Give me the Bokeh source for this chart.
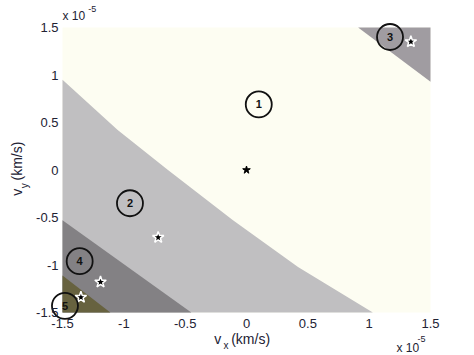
import math
from bokeh.plotting import figure
from bokeh.models import Range1d
from bokeh.embed import file_html
from bokeh.resources import INLINE
from bokeh.core.properties import value

# values in units of 1e-5 km/s
ticks = [-1.5, -1, -0.5, 0, 0.5, 1, 1.5]
tick_labels = ["-1.5", "-1", "-0.5", "0", "0.5", "1", "1.5"]

# boundary between region 1 and region 2 (curved)
b12_x = [-1.5, -1.05, -0.64, -0.11, 0.42, 1.03]
b12_y = [0.95, 0.42, 0.0, -0.53, -1.02, -1.5]
# boundary between region 2 and region 4
b24_x = [-1.5, -0.45]
b24_y = [-0.53, -1.5]
# boundary between region 4 and region 5
b45_x = [-1.5, -1.11]
b45_y = [-1.11, -1.5]
# boundary of region 3 (top-right corner)
b3_x = [0.91, 1.5]
b3_y = [1.5, 0.93]

# equilibrium points (stars)
star_x = [-0.72, -1.19, -1.35, 1.34]
star_y = [-0.71, -1.18, -1.34, 1.35]
center_star_x = [0.0]
center_star_y = [0.0]

# region labels
region_ids = ["1", "2", "3", "4", "5"]
region_x = [0.10, -0.95, 1.17, -1.36, -1.48]
region_y = [0.69, -0.35, 1.40, -0.96, -1.43]

region_colors = ["#FDFDF2", "#C0BFC1", "#A09CA1", "#838184", "#67623F"]

lo, hi = -1.5, 1.5
W, H = 474, 355
left, right, top, bottom = 62, 44, 27, 43
sx = (W - left - right) / (hi - lo)
sy = (H - top - bottom) / (hi - lo)

p = figure(width=W, height=H, output_backend="svg", toolbar_location=None,
           min_border=0,
           x_range=Range1d(lo - left / sx, hi + right / sx),
           y_range=Range1d(lo - bottom / sy, hi + top / sy))
p.outline_line_color = None
p.grid.visible = False
p.axis.visible = False
p.background_fill_color = "white"
p.border_fill_color = "white"

# region 1: whole square
p.patch([lo, hi, hi, lo], [lo, lo, hi, hi], fill_color=region_colors[0], line_color=None)
# region 2: below curve
p.patch(b12_x + [lo], b12_y + [lo], fill_color=region_colors[1], line_color=None)
# region 3
p.patch(b3_x + [hi], b3_y + [hi], fill_color=region_colors[2], line_color=None)
# region 4
p.patch(b24_x + [lo], b24_y + [lo], fill_color=region_colors[3], line_color=None)
# region 5
p.patch(b45_x + [lo], b45_y + [lo], fill_color=region_colors[4], line_color=None)

# stars
p.scatter(star_x, star_y, marker="star", size=12, fill_color="black",
          line_color="white", line_width=1.5)
p.scatter(center_star_x, center_star_y, marker="star", size=8, fill_color="black",
          line_color="black")

# circled region numbers
p.scatter(region_x, region_y, marker="circle", size=26, fill_color=None,
          line_color="#111111", line_width=1.8)
p.text(region_x, region_y, text=region_ids, text_align="center", text_baseline="middle",
       text_font=value("Liberation Sans"), text_font_size="11px", text_font_style="bold",
       text_color="#111111")

tick_color = "#222233"
font = value("Liberation Sans")
# x tick labels
p.text(ticks, [lo] * len(ticks), text=tick_labels, y_offset=11, text_align="center",
       text_baseline="middle", text_font=font, text_font_size="13px", text_color=tick_color)
# y tick labels
p.text([lo] * len(ticks), ticks, text=tick_labels, x_offset=-4, text_align="right",
       text_baseline="middle", text_font=font, text_font_size="13px", text_color=tick_color)


def lab(x, y, t, size="14px", angle=0, align="left"):
    p.text([x], [y], text=[t], angle=angle, text_align=align, text_baseline="middle",
           text_font=font, text_font_size=size, text_color=tick_color)

# x axis label  v_x (km/s)
lab(-0.235, -1.774, "v", align="center")
lab(-0.168, -1.848, "x", size="10px", align="center")
lab(-0.125, -1.774, "(km/s)", align="left")
# y axis label  v_y (km/s)
lab(-1.875, -0.235, "v", angle=math.pi / 2, align="center")
lab(-1.812, -0.165, "y", size="10px", angle=math.pi / 2, align="center")
lab(-1.875, -0.11, "(km/s)", angle=math.pi / 2, align="left")
# exponent labels
lab(-1.5, 1.616, "x 10", size="12px")
lab(-1.29, 1.70, "-5", size="9px")
lab(1.222, -1.869, "x 10", size="12px")
lab(1.394, -1.774, "-5", size="9px")

open("out.html", "w").write(file_html(p, INLINE))
